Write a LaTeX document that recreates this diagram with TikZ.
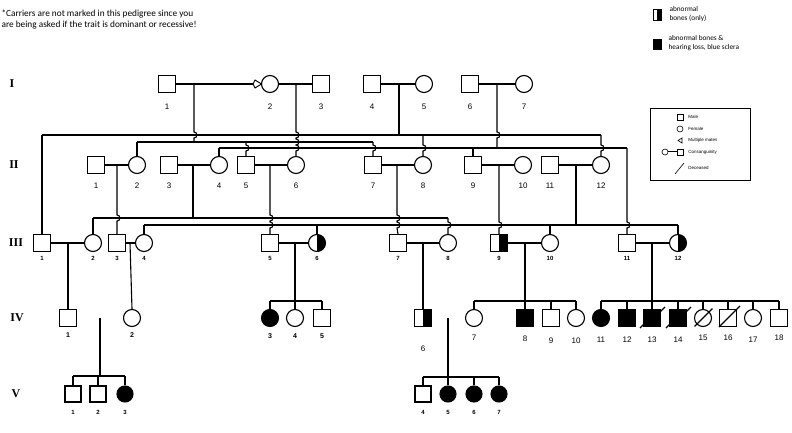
\documentclass[tikz,border=0pt]{standalone}
\usepackage{fontspec}
\usetikzlibrary{calc}
\setmainfont{Liberation Sans}
\newfontfamily\carl{Carlito}
\newfontfamily\tms{Liberation Serif}
\begin{document}
\begin{tikzpicture}[x=1pt,y=-1pt,line width=1.1pt,
 m/.style={draw,minimum size=17pt,inner sep=0pt},
 f/.style={draw,circle,minimum size=17pt,inner sep=0pt},
 blk/.style={fill=black},
 half/.style={path picture={\fill (path picture bounding box.north) rectangle (path picture bounding box.south east);}},
 fh/.style={f,half}, mh/.style={m,half}, fb/.style={f,blk}, mb/.style={m,blk},
 lb/.style={font=\fontsize{8}{9}\selectfont,inner sep=0pt},
 lbb/.style={font=\fontsize{6}{7}\selectfont\bfseries,inner sep=0pt},
 gen/.style={font=\tms\fontsize{12}{12}\selectfont\bfseries,inner sep=0pt},
 dd/.style={double,double distance=1.6pt,line width=0.6pt}]
\useasboundingbox (0,0) rectangle (792,433);
\def\hop{ arc[start angle=-90,end angle=90,radius=3] }
% top texts
\node[anchor=west,font=\carl\fontsize{9.3}{11}\selectfont,align=left,inner sep=0pt] (note) at (1,19) {*Carriers are not marked in this pedigree since you\\are being asked if the trait is dominant or recessive!};
\node[draw,minimum width=8pt,minimum height=11pt,inner sep=0pt,line width=1pt,half] (k1) at (657,15) {};
\node[anchor=west,font=\carl\fontsize{7.3}{8.5}\selectfont,align=left,inner sep=0pt] (k1t) at (669,14) {abnormal\\bones (only)};
\node[blk,minimum width=9pt,minimum height=11pt,inner sep=0pt] (k2) at (657,45) {};
\node[anchor=west,font=\carl\fontsize{7.3}{8.5}\selectfont,align=left,inner sep=0pt] (k2t) at (668,43) {abnormal bones \&\\hearing loss, blue sclera};
% legend box
\node[draw,line width=0.6pt,minimum width=100pt,minimum height=72pt,inner sep=0pt] (leg) at (700,144) {};
\begin{scope}[line width=0.6pt,every node/.style={font=\fontsize{4.5}{5}\selectfont,anchor=west,inner sep=0pt}]
\node[draw,minimum size=6pt,inner sep=0pt,anchor=center] (lm) at (680,117) {}; \node (lmt) at (688,117) {Male};
\node[draw,circle,minimum size=6pt,inner sep=0pt,anchor=center] (lf) at (680,129) {}; \node (lft) at (688,129) {Female};
\draw (682,138) -- (678,140.5) -- (682,143) -- cycle; \node (ltt) at (688,140) {Multiple mates};
\node[draw,circle,minimum size=6pt,inner sep=0pt,anchor=center] (lc1) at (665,152) {};
\node[draw,minimum size=6pt,inner sep=0pt,anchor=center] (lc2) at (680,152) {};
\draw[double,double distance=1pt,line width=0.4pt] (lc1) -- (lc2); \node (lct) at (688,152) {Consanguinity};
\draw (675,174) -- (684,163); \node (ldt) at (688,168) {Deceased};
\end{scope}
% generation labels
\node[gen] (gI) at (12,84) {I};
\node[gen] (gII) at (14,165) {II};
\node[gen] (gIII) at (16,243) {III};
\node[gen] (gIV) at (17,318) {IV};
\node[gen] (gV) at (16,394) {V};
% Row I
\node[m] (I1) at (167,84) {}; \node[f] (I2) at (270,84) {}; \node[m] (I3) at (321,84) {};
\node[m] (I4) at (372,84) {}; \node[f] (I5) at (424,84) {}; \node[m] (I6) at (470,84) {}; \node[f] (I7) at (524,84) {};
\draw[line width=0.9pt] (261.5,84) -- (255,80) -- (253,84) -- (255,88) -- cycle;
\coordinate (tri) at (253,84);
\foreach \n/\x in {1/167,2/270,3/321,4/372,5/424,6/470,7/524} \node[lb] (lI\n) at (\x,107) {\n};
\draw (I1) -- (tri); \draw (I2) -- (I3); \draw (I4) -- (I5); \draw (I6) -- (I7);
% Row II
\foreach \n/\x/\s in {1/96/m,2/137/f,3/169/m,4/219/f,5/246/m,6/296/f,7/373/m,8/423/f,9/473/m,10/523/f,11/550/m,12/601/f}{
 \node[\s] (II\n) at (\x,165) {}; \node[lb] (lII\n) at (\x,186) {\n};}
\draw (II1) -- (II2); \draw (II3) -- (II4); \draw (II5) -- (II6); \draw (II7) -- (II8); \draw (II9) -- (II10); \draw (II11) -- (II12);
% Row I -> II lines
\draw (42,135) -- (601,135); \draw (137,142) -- (373,142); \draw (219,148) -- (627,148);
\draw (194,84) -- (194,132)\hop -- (194,142);
\draw (296,84) -- (296,132)\hop -- (296,139)\hop -- (296,145)\hop -- (II6.north);
\draw (399,84) -- (399,135);
\draw (497,84) -- (497,132)\hop -- (497,148);
\draw (137,142) -- (II2.north); \draw (246,142) -- (246,145)\hop -- (II5.north);
\draw (373,142) -- (373,145)\hop -- (II7.north);
\draw (423,135) -- (423,145)\hop -- (II8.north);
\draw (601,135) -- (601,145)\hop -- (II12.north);
\draw (219,148) -- (II4.north); \draw (473,148) -- (II9.north);
% Row III
\foreach \n/\x/\s in {1/42/m,2/93/f,3/117/m,4/144/f,5/270/m,6/317/fh,7/398/m,8/448/f,9/499/mh,10/550/f,11/627/m,12/678/fh}{
 \node[\s] (III\n) at (\x,243) {}; \node[lbb] (lIII\n) at (\x,258) {\n};}
\draw (III1) -- (III2); \draw (III3) -- (III4); \draw (III5) -- (III6); \draw (III7) -- (III8); \draw (III9) -- (III10); \draw (III11) -- (III12);
\draw (42,135) -- (III1.north);
\draw (627,148) -- (627,222)\hop -- (III11.north);
\draw (93,218) -- (448,218); \draw (144,225) -- (678,225);
\draw (117,165) -- (117,215)\hop -- (III3.north);
\draw (193,165) -- (193,218);
\draw (270,165) -- (270,215)\hop -- (270,222)\hop -- (III5.north);
\draw (397,165) -- (397,215)\hop -- (397,222)\hop -- (III7.north);
\draw (499,165) -- (499,222)\hop -- (III9.north);
\draw (576,165) -- (576,225);
\draw (93,218) -- (III2.north); \draw (448,218) -- (448,222)\hop -- (III8.north);
\draw (144,225) -- (III4.north); \draw (317,225) -- (III6.north); \draw (550,225) -- (III10.north); \draw (678,225) -- (III12.north);
% Row IV
\foreach \n/\x/\s in {1/68/m,2/132/f,3/270/fb,4/295/f,5/322/m,6/423/mh,7/474/f,8/525/mb,9/551/m,10/576/f,11/601/fb,12/627/mb,13/652/mb,14/678/mb,15/703/f,16/728/m,17/753/f,18/779/m}
 \node[\s] (IV\n) at (\x,318) {};
\foreach \n/\x/\y in {1/68/335,2/132/335,3/270/336,4/295/336,5/322/336}\node[lbb,font=\fontsize{7}{8}\selectfont\bfseries] (lIV\n) at (\x,\y) {\n};
\foreach \n/\x/\y in {6/423/349,7/474/338,8/525/339,9/551/341,10/576/341,11/601/340,12/627/340,13/652/340,14/678/340,15/703/338,16/728/338,17/753/340,18/779/338}\node[lb] (lIV\n) at (\x,\y) {\n};
\draw (68,243) -- (IV1.north); \draw (130,243) -- (IV2.north);
\draw[dd] (IV1) -- (IV2); \draw[dd] (IV6) -- (IV7);
\draw (295,243) -- (295,301); \draw (270,301) -- (322,301);
\foreach \k in {3,4,5} \draw (IV\k.north) -- (IV\k.north |- 0,301);
\draw (423,243) -- (IV6.north);
\draw (525,243) -- (525,301); \draw (474,301) -- (576,301);
\foreach \k in {7,8,9,10} \draw (IV\k.north) -- (IV\k.north |- 0,301);
\draw (652,243) -- (652,301); \draw (601,301) -- (779,301);
\foreach \k in {11,12,13,14,15,16,17,18} \draw (IV\k.north) -- (IV\k.north |- 0,301);
% deceased slashes
\draw (IV13.south west) ++(-3,1) -- ++(5,-5); \draw (IV13.north east) ++(-2,4) -- ++(6,-6);
\draw (IV14.south west) ++(-3,1) -- ++(5,-5); \draw (IV14.north east) ++(-2,4) -- ++(6,-6);
\draw ($(IV15.south west)+(-2,2)$) -- ($(IV15.north east)+(3,-3)$);
\draw (IV16.south west) -- ($(IV16.north east)+(3,-3)$);
% Row V
\foreach \n/\x/\s in {1/73/m,2/98/m,3/125/fb,4/423/m,5/448/fb,6/474/fb,7/499/fb}{
 \node[\s,minimum size=16pt] (V\n) at (\x,394) {}; \node[lbb] (lV\n) at (\x,412) {\n};}
\draw (100,318) -- (100,376); \draw (73,376) -- (125,376);
\foreach \k in {1,2,3} \draw (V\k.north) -- (V\k.north |- 0,376);
\draw (448,318) -- (448,377); \draw (423,377) -- (499,377);
\foreach \k in {4,5,6,7} \draw (V\k.north) -- (V\k.north |- 0,377);
\end{tikzpicture}
\end{document}
